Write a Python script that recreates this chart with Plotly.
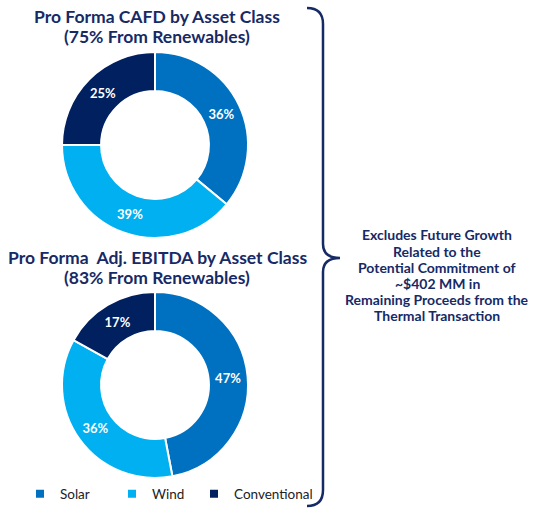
import plotly.graph_objects as go

W, H = 554, 516

# data
asset_classes = ["Solar", "Wind", "Conventional"]
cafd_share = [36, 39, 25]
ebitda_share = [47, 36, 17]
class_colors = ["#0070c0", "#00b0f0", "#002060"]

title_top = ["Pro Forma CAFD by Asset Class", "(75% From Renewables)"]
title_bottom = ["Pro Forma  Adj. EBITDA by Asset Class", "(83% From Renewables)"]
note_lines = ["Excludes Future Growth", "Related to the", "Potential Commitment of",
              "~$402 MM in", "Remaining Proceeds from the", "Thermal Transaction"]

NAVY = "#162a66"
FONT = "Lato"


def px(x):
    return x / W


def py(y):
    return 1 - y / H


def pie(values, top, bottom):
    return go.Pie(
        labels=asset_classes,
        values=values,
        hole=0.58,
        sort=False,
        direction="clockwise",
        rotation=0,
        marker=dict(colors=class_colors, line=dict(color="white", width=2)),
        texttemplate="%{percent:.0%}",
        textposition="inside",
        insidetextorientation="horizontal",
        textfont=dict(family=FONT, size=13, color="white", weight="bold"),
        domain=dict(x=[px(62), px(248)], y=[py(bottom), py(top)]),
        showlegend=False,
        hoverinfo="label+percent",
    )


fig = go.Figure()
fig.add_trace(pie(cafd_share, 52, 238))
fig.add_trace(pie(ebitda_share, 292, 478))

# legend entries as small squares, one legend each to control spacing
legend_x = [40, 132, 214]
legend_names = ["legend", "legend2", "legend3"]
for name, color, lg in zip(asset_classes, class_colors, legend_names):
    fig.add_trace(go.Scatter(
        x=[None], y=[None], mode="markers", name=name,
        marker=dict(symbol="square", size=8, color=color),
        legend=lg, showlegend=True,
    ))

legend_style = dict(
    orientation="h", yanchor="middle", xanchor="left", y=py(494),
    font=dict(family=FONT, size=13.5, color="#222222"),
    bgcolor="rgba(0,0,0,0)", itemwidth=30, tracegroupgap=0,
)
layout_legends = {lg: dict(legend_style, x=px(lx - 20)) for lg, lx in zip(legend_names, legend_x)}

# brace
pts = [(307, 8), (323, 8), (323, 24), (323, 244), (323, 258), (340, 258),
       (323, 258), (323, 272), (323, 490), (323, 506), (307, 506)]
p = [(px(a), py(b)) for a, b in pts]
brace = ("M {0[0]},{0[1]} Q {1[0]},{1[1]} {2[0]},{2[1]} L {3[0]},{3[1]} "
         "Q {4[0]},{4[1]} {5[0]},{5[1]} Q {6[0]},{6[1]} {7[0]},{7[1]} "
         "L {8[0]},{8[1]} Q {9[0]},{9[1]} {10[0]},{10[1]}").format(*p)

annotations = []


def text_line(txt, x, y, size):
    annotations.append(dict(
        text=txt, x=px(x), y=py(y), xref="paper", yref="paper",
        showarrow=False, xanchor="center", yanchor="middle",
        font=dict(family=FONT, size=size, color=NAVY, weight="bold")))


text_line(title_top[0], 157, 16, 17.5)
text_line(title_top[1], 157, 36, 17.5)
text_line(title_bottom[0], 157, 257, 17.5)
text_line(title_bottom[1], 157, 277, 17.5)
for i, line in enumerate(note_lines):
    text_line(line, 437, 235 + 16 * i, 14)

fig.update_layout(
    width=W, height=H,
    margin=dict(l=0, r=0, t=0, b=0),
    paper_bgcolor="white", plot_bgcolor="white",
    xaxis=dict(visible=False), yaxis=dict(visible=False),
    shapes=[dict(type="path", xref="paper", yref="paper", path=brace,
                 line=dict(color=NAVY, width=2.5))],
    annotations=annotations,
    **layout_legends,
)

fig.write_html("out.html", config={"displayModeBar": False},
               post_script="document.body.style.margin='0';")
